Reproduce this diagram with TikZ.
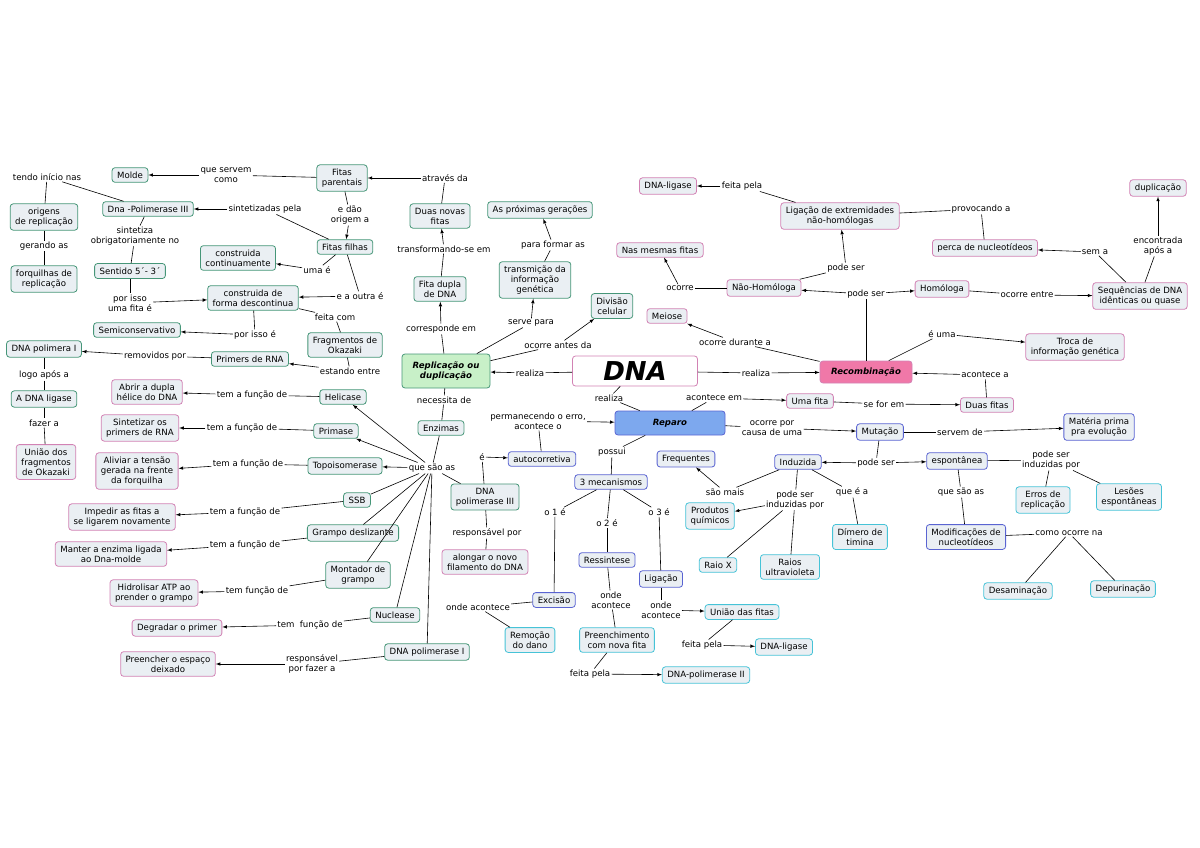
\documentclass[tikz,border=0pt]{standalone}
\usepackage{fontspec}
\setmainfont{DejaVu Sans}
\begin{document}
\definecolor{bf}{RGB}{234,239,243}
\definecolor{gb}{RGB}{70,150,120}
\definecolor{pb}{RGB}{210,130,180}
\definecolor{bb}{RGB}{90,100,210}
\definecolor{cb}{RGB}{70,195,215}
\definecolor{rf}{RGB}{240,120,168}
\definecolor{repf}{RGB}{125,168,238}
\definecolor{gf}{RGB}{200,240,200}
\begin{tikzpicture}[x=1pt,y=-1pt,font=\fontsize{8.6}{10}\selectfont,
  box/.style={draw,fill=bf,rounded corners=3pt,align=center,inner xsep=5pt,inner ysep=4pt,line width=0.8pt},
  G/.style={box,draw=gb}, P/.style={box,draw=pb}, B/.style={box,draw=bb}, C/.style={box,draw=cb},
  lb/.style={inner sep=1pt,align=center,fill=white},
  >=latex, every path/.style={line width=0.6pt}]
\useasboundingbox (0,0) rectangle (1200,848);
\newcommand\lk[4][->]{\draw (#2) -- (#3); \draw[#1] (#3) -- (#4);}
% ---- green nodes
\node[G] (molde) at (130,175) {Molde};
\node[G] (fpar) at (342,178) {Fitas\\parentais};
\node[G] (dp3) at (148,209) {Dna -Polimerase III};
\node[G] (orig) at (44,217) {origens\\de replicação};
\node[G] (forq) at (44,279) {forquilhas de\\replicação};
\node[G] (sent) at (130,271) {Sentido 5´- 3´};
\node[G] (ccont) at (238,258) {construida\\continuamente};
\node[G] (ffil) at (345,247) {Fitas filhas};
\node[G] (cdesc) at (253,298) {construida de\\forma descontinua};
\node[G] (semi) at (137,330) {Semiconservativo};
\node[G] (dpi) at (44,349) {DNA polimera I};
\node[G] (prim) at (250,359) {Primers de RNA};
\node[G] (frag) at (345,345) {Fragmentos de\\Okazaki};
\node[G] (alig) at (44,399) {A DNA ligase};
\node[G] (duas) at (440,216) {Duas novas\\fitas};
\node[G] (fdup) at (440,289) {Fita dupla\\de DNA};
\node[G] (trans) at (535,280) {transmição da\\informação\\genética};
\node[G] (div) at (612,306) {Divisão\\celular};
\node[G] (prox) at (540,210) {As próximas gerações};
\node[G,fill=gf,minimum width=88pt,minimum height=34pt] (rep) at (446,371) {\bfseries\itshape Replicação ou\\\bfseries\itshape duplicação};
\node[G] (enz) at (441,428) {Enzimas};
\node[G] (heli) at (343,397) {Helicase};
\node[G] (pma) at (336,431) {Primase};
\node[G] (topo) at (345,466) {Topoisomerase};
\node[G] (ssb) at (357,500) {SSB};
\node[G] (gram) at (353,533) {Grampo deslizante};
\node[G] (mont) at (358,575) {Montador de\\grampo};
\node[G] (nucl) at (395,615) {Nuclease};
\node[G] (dpol1) at (427,652) {DNA polimerase I};
\node[G] (dpol3) at (485,497) {DNA\\polimerase III};
% ---- pink left
\node[P] (abrir) at (147,392) {Abrir a dupla\\hélice do DNA};
\node[P] (sint) at (140,428) {Sintetizar os\\primers de RNA};
\node[P] (aliv) at (137,471) {Aliviar a tensão\\gerada na frente\\da forquilha};
\node[P] (imp) at (122,517) {Impedir as fitas a\\se ligarem novamente};
\node[P] (mant) at (111,554) {Manter a enzima ligada\\ao Dna-molde};
\node[P] (hidr) at (154,593) {Hidrolisar ATP ao\\prender o grampo};
\node[P] (degr) at (177,628) {Degradar o primer};
\node[P] (pree) at (168,664) {Preencher o espaço\\deixado};
\node[P] (uniao) at (46,462) {União dos\\fragmentos\\de Okazaki};
\node[P] (along) at (485,562) {alongar o novo\\filamento do DNA};
% ---- centre
\node[box,draw=pb,fill=white,minimum width=125pt,minimum height=30pt] (dna) at (635,371) {\fontsize{26}{28}\selectfont\bfseries\itshape DNA};
\node[box,draw=pb,fill=rf,minimum width=92pt,minimum height=22pt] (rec) at (866,372) {\bfseries\itshape Recombinação};
\node[box,draw=bb,fill=repf,minimum width=110pt,minimum height=24pt] (repa) at (670,423) {\bfseries\itshape Reparo};
% ---- pink right
\node[P] (dlig) at (668,186) {DNA-ligase};
\node[P] (lext) at (840,216) {Ligação de extremidades\\não-homólogas};
\node[P] (nasm) at (660,250) {Nas mesmas fitas};
\node[P] (nhom) at (764,288) {Não-Homóloga};
\node[P] (mei) at (667,316) {Meiose};
\node[P] (hom) at (942,289) {Homóloga};
\node[P] (perca) at (985,248) {perca de nucleotídeos};
\node[P] (dupl) at (1158,188) {duplicação};
\node[P] (seq) at (1140,296) {Sequências de DNA\\idênticas ou quase};
\node[P] (troca) at (1075,347) {Troca de\\informação genética};
\node[P] (umaf) at (810,401) {Uma fita};
\node[P] (duasf) at (987,405) {Duas fitas};
% ---- blue
\node[B] (auto) at (542,459) {autocorretiva};
\node[B] (tres) at (611,482) {3 mecanismos};
\node[B] (ress) at (607,560) {Ressintese};
\node[B] (liga) at (661,579) {Ligação};
\node[B] (exc) at (554,600) {Excisão};
\node[B] (freq) at (686,459) {Frequentes};
\node[B] (mut) at (880,432) {Mutação};
\node[B] (ind) at (798,462) {Induzida};
\node[B] (esp) at (957,461) {espontânea};
\node[B] (modi) at (966,537) {Modificações de\\nucleotídeos};
\node[B] (mat) at (1099,427) {Matéria prima\\pra evolução};
% ---- cyan
\node[C] (prod) at (710,516) {Produtos\\químicos};
\node[C] (raiox) at (718,565) {Raio X};
\node[C] (raios) at (790,567) {Raios\\ultravioleta};
\node[C] (dim) at (860,537) {Dímero de\\timina};
\node[C] (erros) at (1043,500) {Erros de\\replicação};
\node[C] (les) at (1129,497) {Lesões\\espontâneas};
\node[C] (desa) at (1018,591) {Desaminação};
\node[C] (depu) at (1123,589) {Depurinação};
\node[C] (unif) at (742,612) {União das fitas};
\node[C] (dlig2) at (784,647) {DNA-ligase};
\node[C] (remo) at (530,640) {Remoção\\do dano};
\node[C] (preen) at (617,640) {Preenchimento\\com nova fita};
\node[C] (dp2) at (706,675) {DNA-polimerase II};
% ---- link labels
\node[lb] (l1) at (226,175) {que servem\\como};
\node[lb] (l2) at (445,178) {através da};
\node[lb] (l3) at (350,215) {e dão\\origem a};
\node[lb] (l4) at (265,209) {sintetizadas pela};
\node[lb] (l5) at (47,177) {tendo início nas};
\node[lb] (l6) at (44,246) {gerando as};
\node[lb] (l7) at (135,236) {sintetiza\\obrigatoriamente no};
\node[lb] (l8) at (130,303) {por isso\\uma fita é};
\node[lb] (l9) at (317,270) {uma é};
\node[lb] (l10) at (360,296) {e a outra é};
\node[lb] (l11) at (255,335) {por isso é};
\node[lb] (l12) at (335,317) {feita com};
\node[lb] (l13) at (350,371) {estando entre};
\node[lb] (l14) at (155,356) {removidos por};
\node[lb] (l15) at (44,375) {logo após a};
\node[lb] (l16) at (44,423) {fazer a};
\node[lb] (l17) at (444,249) {transformando-se em};
\node[lb] (l18) at (441,329) {corresponde em};
\node[lb] (l19) at (531,323) {serve para};
\node[lb] (l20) at (553,245) {para formar as};
\node[lb] (l21) at (558,345) {ocorre antes da};
\node[lb] (l22) at (530,373) {realiza};
\node[lb] (l23) at (444,400) {necessita de};
\node[lb] (l24) at (432,468) {que são as};
\node[lb] (h1) at (252,395) {tem a função de};
\node[lb] (h2) at (242,428) {tem a função de};
\node[lb] (h3) at (248,464) {tem a função de};
\node[lb] (h4) at (245,512) {tem a função de};
\node[lb] (h5) at (245,545) {tem a função de};
\node[lb] (h6) at (257,591) {tem função de};
\node[lb] (h7) at (310,625) {tem\ \ função de};
\node[lb] (h8) at (312,664) {responsável\\por fazer a};
\node[lb] (l25) at (482,457) {é};
\node[lb] (l26) at (487,533) {responsável por};
\node[lb] (l27) at (538,421) {permanecendo o erro,\\acontece o};
\node[lb] (l28) at (609,398) {realiza};
\node[lb] (l29) at (756,373) {realiza};
\node[lb] (l30) at (714,398) {acontece em};
\node[lb] (l31) at (884,404) {se for em};
\node[lb] (l32) at (985,375) {acontece a};
\node[lb] (l33) at (942,334) {é uma};
\node[lb] (l34) at (735,342) {ocorre durante a};
\node[lb] (l35) at (866,294) {pode ser};
\node[lb] (l36) at (680,288) {ocorre};
\node[lb] (l37) at (846,268) {pode ser};
\node[lb] (l38) at (742,186) {feita pela};
\node[lb] (l39) at (981,209) {provocando a};
\node[lb] (l40) at (1027,295) {ocorre entre};
\node[lb] (l41) at (1095,252) {sem a};
\node[lb] (l42) at (1158,246) {encontrada\\após a};
\node[lb] (l43) at (772,428) {ocorre por\\causa de uma};
\node[lb] (l44) at (960,432) {servem de};
\node[lb] (l45) at (876,463) {pode ser};
\node[lb] (l46) at (725,492) {são mais};
\node[lb] (l47) at (795,500) {pode ser\\induzidas por};
\node[lb] (l48) at (852,492) {que é a};
\node[lb] (l49) at (961,492) {que são as};
\node[lb] (l50) at (1051,460) {pode ser\\induzidas por};
\node[lb] (l51) at (1069,533) {como ocorre na};
\node[lb] (l52) at (612,452) {possui};
\node[lb] (l53) at (555,512) {o 1 é};
\node[lb] (l54) at (607,523) {o 2 é};
\node[lb] (l55) at (659,512) {o 3 é};
\node[lb] (l56) at (478,607) {onde acontece};
\node[lb] (l57) at (611,600) {onde\\acontece};
\node[lb] (l58) at (661,610) {onde\\acontece};
\node[lb] (l59) at (702,645) {feita pela};
\node[lb] (l60) at (590,674) {feita pela};
% ---- links
\lk{fpar}{l1}{molde}
\lk{duas}{l2}{fpar}
\lk{fpar}{l3}{ffil}
\lk{ffil}{l4}{dp3}
\lk[-]{dp3}{l5}{orig}
\lk[-]{orig}{l6}{forq}
\lk[-]{dp3}{l7}{sent}
\lk{sent}{l8}{cdesc}
\lk{ffil}{l9}{ccont}
\lk{ffil}{l10}{cdesc}
\lk{cdesc}{l11}{semi}
\lk[-]{cdesc}{l12}{frag}
\lk{frag}{l13}{prim}
\lk{prim}{l14}{dpi}
\lk[-]{dpi}{l15}{alig}
\lk[-]{alig}{l16}{uniao}
\lk{fdup}{l17}{duas}
\lk{rep}{l18}{fdup}
\lk{rep}{l19}{trans}
\lk{trans}{l20}{prox}
\lk{rep}{l21}{div}
\lk{dna}{l22}{rep}
\lk[-]{rep}{l23}{enz}
\draw (enz) -- (l24);
\foreach \t in {heli,pma,topo} {\draw[->] (l24) -- (\t);}
\foreach \t in {ssb,gram,mont,nucl,dpol1,dpol3} {\draw (l24) -- (\t);}
\lk{heli}{h1}{abrir}
\lk{pma}{h2}{sint}
\lk{topo}{h3}{aliv}
\lk{ssb}{h4}{imp}
\lk{gram}{h5}{mant}
\lk{mont}{h6}{hidr}
\lk{nucl}{h7}{degr}
\lk{dpol1}{h8}{pree}
\lk{dpol3}{l25}{auto}
\lk[-]{dpol3}{l26}{along}
\lk{auto}{l27}{repa}
\lk[-]{dna}{l28}{repa}
\lk{dna}{l29}{rec}
\lk{repa}{l30}{umaf}
\lk{umaf}{l31}{duasf}
\lk{duasf}{l32}{rec}
\lk{rec}{l33}{troca}
\lk{rec}{l34}{mei}
\draw (rec) -- (l35); \draw[->] (l35) -- (nhom); \draw[->] (l35) -- (hom);
\lk{nhom}{l36}{nasm}
\lk{nhom}{l37}{lext}
\lk{lext}{l38}{dlig}
\lk[-]{lext}{l39}{perca}
\lk{hom}{l40}{seq}
\lk{seq}{l41}{perca}
\lk{seq}{l42}{dupl}
\lk{repa}{l43}{mut}
\lk{mut}{l44}{mat}
\draw (mut) -- (l45); \draw[->] (l45) -- (ind); \draw[->] (l45) -- (esp);
\lk{ind}{l46}{freq}
\draw (ind) -- (l47); \draw[->] (l47) -- (prod); \draw (l47) -- (raiox); \draw (l47) -- (raios);
\lk[-]{ind}{l48}{dim}
\lk[-]{esp}{l49}{modi}
\draw (esp) -- (l50); \draw (l50) -- (erros); \draw (l50) -- (les);
\draw (modi) -- (l51); \draw (l51) -- (desa); \draw (l51) -- (depu);
\lk[-]{repa}{l52}{tres}
\lk[-]{tres}{l53}{exc}
\lk[-]{tres}{l54}{ress}
\lk[-]{tres}{l55}{liga}
\lk[-]{exc}{l56}{remo}
\lk[-]{ress}{l57}{preen}
\lk{liga}{l58}{unif}
\lk{unif}{l59}{dlig2}
\lk{preen}{l60}{dp2}
\end{tikzpicture}
\end{document}
